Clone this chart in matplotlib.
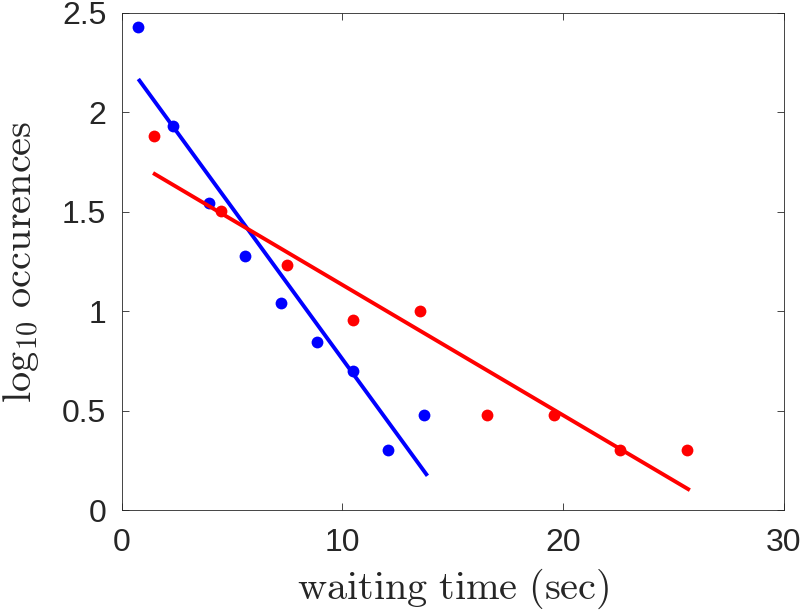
import matplotlib
matplotlib.use('Agg')
import matplotlib.pyplot as plt

# waiting time (sec) and log10 occurences
blue_t = [0.75, 2.35, 3.98, 5.61, 7.24, 8.87, 10.47, 12.08, 13.70]
blue_y = [2.43, 1.93, 1.545, 1.28, 1.04, 0.845, 0.70, 0.30, 0.48]
red_t = [1.45, 4.48, 7.51, 10.50, 13.53, 16.56, 19.60, 22.58, 25.60]
red_y = [1.88, 1.505, 1.23, 0.954, 1.00, 0.48, 0.48, 0.30, 0.30]

# fitted lines (end points)
blue_fit_t = [0.81, 13.8]
blue_fit_y = [2.16, 0.18]
red_fit_t = [1.5, 25.66]
red_fit_y = [1.69, 0.105]

plt.rcParams['mathtext.fontset'] = 'cm'
plt.rcParams['font.family'] = ['Liberation Sans', 'DejaVu Sans']

fig = plt.figure(figsize=(8, 6.15), dpi=100)
ax = fig.add_axes([0.152, 0.1707, 0.828, 0.8082])

ax.plot(blue_t, blue_y, 'o', color='#0000ff', markersize=8.5, markeredgewidth=0)
ax.plot(red_t, red_y, 'o', color='#ff0000', markersize=8.5, markeredgewidth=0)
ax.plot(blue_fit_t, blue_fit_y, '-', color='#0000ff', linewidth=2.8)
ax.plot(red_fit_t, red_fit_y, '-', color='#ff0000', linewidth=2.8)

ax.set_xlim(0, 30)
ax.set_ylim(0, 2.5)
ax.set_xticks([0, 10, 20, 30])
ax.set_yticks([0, 0.5, 1, 1.5, 2, 2.5])
ax.set_yticklabels(['0', '0.5', '1', '1.5', '2', '2.5'])

ax.tick_params(direction='in', length=5, width=0.6, colors='#262626',
               labelsize=23, top=True, right=True)
ax.tick_params(axis='y', pad=11)
ax.tick_params(axis='x', pad=13)
for s in ax.spines.values():
    s.set_linewidth(0.6)
    s.set_color('#262626')

ax.set_xlabel(r'$\mathrm{waiting\ time\ (sec)}$', fontsize=29, color='#262626', labelpad=6)
ax.set_ylabel(r'$\mathrm{log}_{10}\ \mathrm{occurences}$', fontsize=29, color='#262626', labelpad=15)

fig.savefig('out.png', dpi=100)
